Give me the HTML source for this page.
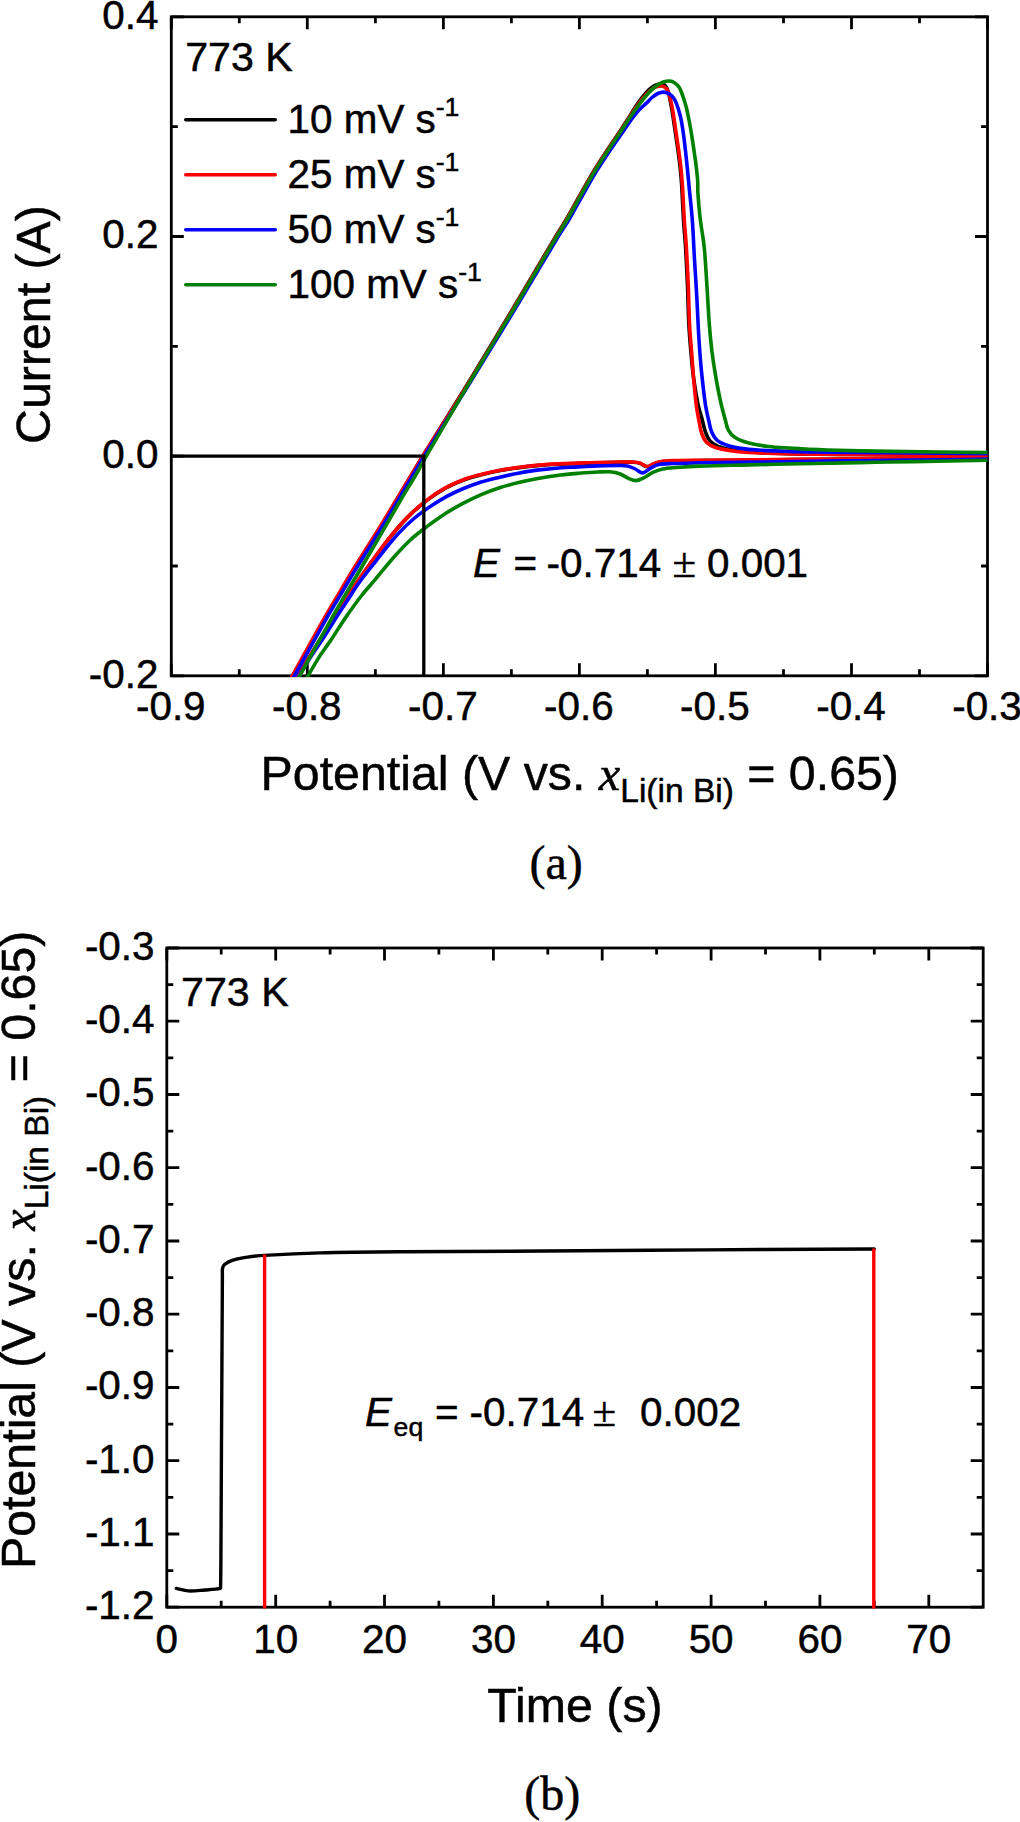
<!DOCTYPE html>
<html lang="en"><head><meta charset="utf-8"><title>Figure</title>
<style>
html,body{margin:0;padding:0;background:#fff;}
body{width:1020px;height:1822px;overflow:hidden;}
svg{display:block;}
.s{font-family:"Liberation Sans", Arial, Helvetica, sans-serif;fill:#000;stroke:#000;stroke-width:0.5px;}
.r{font-family:"Liberation Serif", "Times New Roman", Times, serif;fill:#000;stroke:#000;stroke-width:0.5px;}
.tk{font-size:40.4px;}
.ti{font-size:48.3px;}
</style></head><body>
<svg width="1020" height="1822" viewBox="0 0 1020 1822">
<rect x="0" y="0" width="1020" height="1822" fill="#ffffff"/>
<g id="panel-a">
<rect x="171.3" y="16.8" width="816.2" height="659" fill="none" stroke="#000" stroke-width="2.8"/>
<path d="M171.3 16.8 v12.5 M171.3 675.8 v-12.5 M239.3 16.8 v6.5 M239.3 675.8 v-6.5 M307.3 16.8 v12.5 M307.3 675.8 v-12.5 M375.4 16.8 v6.5 M375.4 675.8 v-6.5 M443.4 16.8 v12.5 M443.4 675.8 v-12.5 M511.4 16.8 v6.5 M511.4 675.8 v-6.5 M579.4 16.8 v12.5 M579.4 675.8 v-12.5 M647.4 16.8 v6.5 M647.4 675.8 v-6.5 M715.4 16.8 v12.5 M715.4 675.8 v-12.5 M783.5 16.8 v6.5 M783.5 675.8 v-6.5 M851.5 16.8 v12.5 M851.5 675.8 v-12.5 M919.5 16.8 v6.5 M919.5 675.8 v-6.5 M987.5 16.8 v12.5 M987.5 675.8 v-12.5 M171.3 16.8 h12.5 M987.5 16.8 h-12.5 M171.3 126.6 h6.5 M987.5 126.6 h-6.5 M171.3 236.5 h12.5 M987.5 236.5 h-12.5 M171.3 346.3 h6.5 M987.5 346.3 h-6.5 M171.3 456.1 h12.5 M987.5 456.1 h-12.5 M171.3 566 h6.5 M987.5 566 h-6.5 M171.3 675.8 h12.5 M987.5 675.8 h-12.5" fill="none" stroke="#000" stroke-width="2.8"/>
<clipPath id="clipA"><rect x="171.3" y="16.8" width="816.2" height="660.2"/></clipPath>
<g clip-path="url(#clipA)" fill="none" stroke-width="3.6" stroke-linejoin="round" stroke-linecap="round">
<path d="M987.5 457.6 C970.7 457.8 953.8 458 937 458.2 C921.3 458.4 905.7 458.5 890 458.7 C880 458.8 870 458.9 860 459 C849 459.1 838 459.2 827 459.3 C804.7 459.5 782.3 459.8 760 460 C740 460.2 720 460.4 700 460.6 C692.2 460.7 684.3 460.7 676.5 460.9 C671.9 461 667.3 461 662.7 461.5 C660.1 461.8 657.4 462.5 654.9 463.4 C652.2 464.3 649.7 466.8 647.1 466.8 C644.8 466.8 642.6 464.2 640.2 463.4 C638 462.7 635.6 462.4 633.3 462.3 C628.1 462 622.8 462.2 617.6 462.3 C611.1 462.4 604.5 462.6 598 462.8 C591.5 463 584.9 463.2 578.4 463.4 C571.9 463.6 565.3 463.9 558.8 464.2 C552.3 464.5 545.7 464.8 539.2 465.4 C532.7 466 526.1 466.7 519.6 467.6 C512.7 468.5 505.7 469.4 498.8 470.7 C492.9 471.8 487 473.2 481.2 474.7 C475.2 476.3 469.3 477.8 463.5 480 C457.5 482.2 451.5 484.8 445.9 487.9 C439.8 491.3 433.8 495.2 428.2 499.4 C422 504 416.1 509 410.6 514.4 C404.3 520.5 398.5 527.1 392.9 533.8 C386.7 541.2 381 549 375.3 556.8 C369.3 564.9 363.4 573.2 357.6 581.5 C354 586.7 350.6 592.1 347.1 597.3 C343.6 602.5 339.9 607.5 336.5 612.8 C331.5 620.7 326.9 628.8 322 636.8 C317.7 643.8 313.3 650.8 309 657.8 C305.1 664.2 301.2 670.7 297.3 677.1" stroke="#000000"/>
<path d="M292.3 676.8 C296.4 669.4 300.5 662.1 304.6 654.7 C308.7 647.3 312.8 639.8 317 632.4 C321 625.3 324.9 618.2 329 611.2 C332.8 604.7 336.7 598.3 340.5 591.8 C344.8 584.5 349 577.2 353.4 570 C363.1 554.2 373.2 538.7 382.8 522.9 C396.3 500.7 409.3 478.1 422.9 455.9 C437.6 431.8 452.9 408 467.6 383.9 C484.1 356.9 500.4 329.7 516.6 302.5 C529.3 281.3 541.6 260 554.3 238.8 C558.3 232.1 562.6 225.7 566.5 219 C571.2 211 575.6 202.7 580.2 194.6 C584.3 187.4 588.3 180.3 592.5 173.2 C594.6 169.7 596.8 166.2 599 162.8 C602.2 157.8 605.5 152.8 608.8 147.8 C612 142.9 615.4 138.1 618.6 133.2 C621.9 128.2 625.2 123.3 628.4 118.3 C631.4 113.7 634.1 108.8 637.2 104.3 C640 100.2 643 96.2 646.3 92.5 C648.4 90.2 650.8 88.1 653.3 86.3 C654.7 85.3 656.4 84.8 658 84.3 C659.1 84 660.4 83.6 661.5 83.8 C662.7 84 664.2 84.6 665 85.5 C666.3 87 667.4 89 668 91 C669.7 96.9 670.7 103.1 671.8 109.2 C673 115.7 673.8 122.3 674.8 128.8 C675.8 135.3 676.8 141.9 677.7 148.4 C678.6 154.9 679.5 161.5 680.2 168 C680.8 173.8 681.3 179.7 681.7 185.5 C682.4 197 682.8 208.5 683.5 220 C684 228.8 685 237.5 685.5 246.3 C686.3 259.5 686.9 272.7 687.5 285.9 C688.1 299.1 688.2 312.2 688.9 325.4 C689.4 334.2 690.1 342.9 690.9 351.7 C691.7 360.5 692.4 369.3 693.6 378.1 C694.8 386.9 696.2 395.7 698 404.4 C699.1 409.7 700.9 414.8 702.3 420 C703.4 424.2 704.1 428.5 705.6 432.5 C706.6 435.3 707.9 438.4 709.8 440.6 C711.8 442.9 714.7 444.9 717.5 446.2 C721.2 447.9 725.4 448.9 729.5 449.6 C736.3 450.8 743.1 451.5 750 452 C762.6 452.9 775.3 453.4 788 453.7 C808.7 454.2 829.3 454.3 850 454.5 C895.8 454.9 941.7 455.2 987.5 455.6" stroke="#000000"/>
<path d="M987.5 457.3 C970.7 457.5 953.8 457.7 937 457.9 C921.3 458.1 905.7 458.2 890 458.4 C880 458.5 870 458.6 860 458.7 C849 458.8 838 458.9 827 459 C804.7 459.2 782.3 459.5 760 459.7 C740 459.9 720 460.1 700 460.3 C692.2 460.4 684.3 460.4 676.5 460.6 C671.9 460.7 667.3 460.7 662.7 461.2 C660.1 461.5 657.4 462.2 654.9 463.1 C652.2 464 649.7 466.5 647.1 466.5 C644.8 466.5 642.6 463.9 640.2 463.1 C638 462.4 635.6 462.1 633.3 462 C628.1 461.7 622.8 461.9 617.6 462 C611.1 462.1 604.5 462.3 598 462.5 C591.5 462.7 584.9 462.9 578.4 463.1 C571.9 463.3 565.3 463.6 558.8 463.9 C552.3 464.2 545.7 464.5 539.2 465.1 C532.7 465.7 526.1 466.4 519.6 467.3 C512.7 468.2 505.7 469.1 498.8 470.4 C492.9 471.5 487 472.9 481.2 474.4 C475.2 476 469.3 477.5 463.5 479.7 C457.5 481.9 451.5 484.5 445.9 487.6 C439.8 491 433.8 494.9 428.2 499.1 C422 503.7 416.1 508.7 410.6 514.1 C404.3 520.2 398.5 526.8 392.9 533.5 C386.7 540.9 381 548.7 375.3 556.5 C369.3 564.6 363.4 572.9 357.6 581.2 C354 586.4 350.6 591.8 347.1 597 C343.6 602.2 339.9 607.2 336.5 612.5 C331.5 620.4 326.9 628.5 322 636.5 C317.7 643.5 313.3 650.5 309 657.5 C305.1 663.9 301.2 670.4 297.3 676.8" stroke="#ff0000"/>
<path d="M291.7 676.8 C295.8 669.4 299.9 662.1 304 654.7 C308.1 647.3 312.2 639.8 316.4 632.4 C320.4 625.3 324.3 618.2 328.4 611.2 C332.2 604.7 336.1 598.3 339.9 591.8 C344.2 584.5 348.5 577.2 352.9 570 C362.6 554.2 372.7 538.7 382.4 522.9 C396 500.7 409.2 478.1 422.9 455.9 C437.7 431.8 453.2 408 468 383.9 C484.6 356.9 500.8 329.7 517 302.5 C529.7 281.3 542 260 554.7 238.8 C558.7 232.1 563 225.7 566.9 219 C571.6 211 576 202.7 580.6 194.6 C584.7 187.4 588.7 180.3 592.9 173.2 C595 169.7 597.2 166.2 599.4 162.8 C602.6 157.8 605.9 152.8 609.2 147.8 C612.4 142.9 615.8 138.1 619 133.2 C622.3 128.2 625.5 123.3 628.8 118.3 C631.9 113.6 634.9 108.8 638.2 104.3 C641.1 100.4 644.1 96.5 647.5 93 C649.6 90.9 652 89 654.5 87.5 C655.8 86.7 657.5 86.4 659 86.2 C660.2 86 661.6 85.9 662.7 86.2 C663.9 86.5 665.1 87.3 666 88.2 C667.1 89.4 668.1 90.9 668.6 92.5 C670.3 97.9 671.4 103.6 672.5 109.2 C673.7 115.7 674.5 122.3 675.5 128.8 C676.5 135.3 677.5 141.9 678.4 148.4 C679.3 154.9 680.2 161.5 680.9 168 C681.5 173.8 682 179.7 682.4 185.5 C683.2 197 683.6 208.5 684.3 220 C684.9 228.8 685.8 237.5 686.3 246.3 C687.1 259.5 687.7 272.7 688.3 285.9 C688.8 299.1 688.9 312.2 689.6 325.4 C690 334.2 690.9 342.9 691.6 351.7 C692.3 360.5 692.8 369.3 693.6 378.1 C694.4 386.9 695.1 395.7 696.2 404.4 C696.8 409.6 697.8 414.8 698.8 420 C699.7 424.6 700.3 429.3 701.8 433.7 C702.9 436.8 704.4 440.2 706.7 442.5 C709 444.8 712.4 446.4 715.5 447.5 C719.9 449 724.6 449.7 729.2 450.4 C735.7 451.4 742.2 452 748.8 452.4 C761.8 453.2 774.9 453.5 788 453.8 C801.1 454.1 814.2 454.2 827.3 454.3 C838.2 454.4 849.1 454.4 860 454.5 C870 454.6 880 454.6 890 454.7 C905.7 454.8 921.3 454.9 937 455 C953.8 455.1 970.7 455.3 987.5 455.5" stroke="#ff0000"/>
<path d="M987.5 459 C970.7 459.3 953.8 459.6 937 459.8 C921.3 460 905.7 460.2 890 460.4 C880 460.5 870 460.6 860 460.7 C849 460.8 838 461 827 461.1 C804.7 461.4 782.3 461.7 760 462 C740 462.3 720 462.5 700 462.8 C690.8 463 681.7 463.1 672.5 463.5 C667.9 463.7 663.2 463.6 658.8 464.5 C656.1 465 653.5 466.5 651 467.8 C648.1 469.3 645.5 472.7 642.7 472.9 C640.3 473.1 637.8 470.2 635.3 469 C632.8 467.8 630.2 466.4 627.5 465.9 C624.3 465.3 620.9 465.5 617.6 465.5 C611.1 465.5 604.5 465.7 598 465.9 C591.5 466.1 584.9 466.6 578.4 466.9 C571.9 467.3 565.3 467.5 558.8 468 C552.3 468.5 545.7 469.1 539.2 469.9 C532.6 470.7 526.1 471.8 519.6 473 C512.6 474.3 505.7 475.8 498.8 477.4 C492.9 478.8 487 480.2 481.2 482 C475.2 483.9 469.3 486.1 463.5 488.5 C457.5 491 451.6 493.7 445.9 496.8 C439.8 500.1 433.9 503.9 428.2 507.9 C422.1 512.1 416.1 516.5 410.6 521.5 C404.3 527.1 398.5 533.3 392.9 539.7 C386.7 546.8 381.1 554.4 375.3 561.8 C369.3 569.4 363.3 576.9 357.6 584.7 C354.7 588.6 352.4 592.9 349.7 597 C346.1 602.5 342.4 608 338.8 613.5 C334 620.9 329.5 628.5 324.7 635.9 C320.1 643 315.2 649.9 310.6 657.1 C306.5 663.6 302.6 670.2 298.6 676.8" stroke="#0000ff"/>
<path d="M293.9 676.8 C298 669.4 302.2 662.1 306.3 654.7 C310.4 647.3 314.5 639.8 318.7 632.4 C322.7 625.3 326.6 618.2 330.7 611.2 C334.5 604.7 338.4 598.3 342.3 591.8 C346.6 584.5 350.9 577.2 355.3 570 C364.9 554.2 374.9 538.7 384.5 522.9 C398 500.7 410.9 478.1 424.4 455.9 C439.1 431.8 454.5 408 469.3 383.9 C486 356.8 502.5 329.7 518.9 302.5 C531.7 281.3 544.1 260 556.9 238.8 C560.9 232.1 565.3 225.7 569.3 219 C574 211 578.4 202.7 583 194.6 C587.1 187.4 591.1 180.3 595.3 173.2 C597.4 169.7 599.7 166.2 601.9 162.8 C605.2 157.8 608.4 152.8 611.8 147.8 C615.1 142.9 618.5 138.1 621.9 133.2 C625.4 128.2 628.7 123.2 632.3 118.3 C634.5 115.4 636.7 112.6 639.2 109.9 C641.3 107.6 643.8 105.6 646.1 103.4 C648.1 101.5 649.9 99.3 652 97.5 C653.8 96 655.7 94.5 657.8 93.5 C659.6 92.7 661.8 92 663.7 92.1 C665.7 92.2 667.9 92.9 669.6 94 C671.5 95.3 673.3 97.3 674.5 99.4 C676.2 102.4 677.3 105.9 678.4 109.2 C679.6 113.1 680.7 117 681.4 121 C682.6 127.5 683.5 134 684.3 140.6 C685.4 149.7 686.4 158.9 687.3 168 C688.1 175.3 688.7 182.7 689.4 190 C690.4 200 691.6 210 692.3 220 C693.3 233.1 693.7 246.3 694.5 259.5 C695.3 272.7 696.2 285.8 696.9 299 C697.6 312.2 698.1 325.3 698.9 338.5 C699.6 349.5 700.4 360.5 701.5 371.5 C702.6 382.5 703.8 393.5 705.4 404.4 C706.2 409.6 707.4 414.8 708.6 420 C709.5 424 710 428.1 711.6 431.8 C713 435 714.8 438.5 717.5 440.6 C720.7 443.2 725.1 444.7 729.2 445.9 C735.5 447.7 742.2 448.8 748.8 449.4 C761.8 450.6 774.9 451 788 451.4 C801.1 451.9 814.2 451.9 827.3 452.1 C838.2 452.3 849.1 452.4 860 452.5 C870 452.6 880 452.7 890 452.8 C905.7 452.9 921.3 453 937 453.2 C953.8 453.4 970.7 453.6 987.5 453.8" stroke="#0000ff"/>
<path d="M987.5 460.2 C970.7 460.5 953.8 460.9 937 461.2 C921.3 461.5 905.7 461.7 890 462 C880 462.2 870 462.4 860 462.6 C840 463 820 463.4 800 463.8 C783.3 464.1 766.7 464.5 750 464.9 C733.3 465.3 716.7 465.5 700 466.1 C692.2 466.4 684.3 466.9 676.5 467.5 C671.9 467.9 667.2 468.1 662.7 469 C659.3 469.7 656 470.9 652.9 472.4 C649.5 474 646.5 476.5 643.1 478.2 C641 479.3 638.6 480.5 636.3 480.6 C634 480.7 631.6 479.7 629.4 478.8 C626 477.4 623 474.9 619.6 473.7 C616.5 472.6 613.1 472.1 609.8 471.8 C605.9 471.5 601.9 471.8 598 472 C591.5 472.3 584.9 472.8 578.4 473.3 C571.9 473.9 565.3 474.5 558.8 475.3 C552.2 476.1 545.7 477 539.2 478.2 C532.6 479.4 526.1 480.7 519.6 482.3 C512.6 484 505.6 485.8 498.8 488 C492.8 489.9 487 492.2 481.2 494.7 C475.2 497.3 469.3 500.2 463.5 503.2 C457.5 506.3 451.6 509.6 445.9 513.2 C439.8 517.1 434 521.3 428.2 525.6 C422.2 530.1 416.1 534.6 410.6 539.7 C404.3 545.5 398.6 551.8 392.9 558.2 C386.8 565.1 381.2 572.4 375.3 579.4 C370.9 584.6 366.2 589.6 362 595 C356.4 602.2 351.1 609.6 345.9 617.1 C340.6 624.8 335.8 632.8 330.6 640.6 C326.8 646.3 322.5 651.8 318.8 657.6 C314.8 663.9 311.2 670.4 307.4 676.8" stroke="#008000"/>
<path d="M299.2 676.8 C304.6 667.1 309.9 657.3 315.3 647.6 C318.8 641.3 322.4 635.1 325.9 628.8 C329.4 622.5 332.9 616.2 336.5 610 C340 603.9 343.5 597.8 347 591.8 C351.3 584.5 355.7 577.3 360 570 C374 546.1 387.8 522.1 401.8 498.2 C407 489.4 412.5 480.7 417.6 471.8 C421 466 424 459.9 427.4 454.1 C441 430.6 454.7 407.2 468.6 383.9 C484.8 356.7 501.4 329.7 517.6 302.5 C530.3 281.3 542.6 260 555.3 238.8 C559.3 232.1 563.6 225.7 567.5 219 C572.2 211 576.6 202.7 581.2 194.6 C585.3 187.4 589.3 180.3 593.5 173.2 C595.6 169.7 597.8 166.2 600 162.8 C603.2 157.8 606.5 152.8 609.8 147.8 C613 142.9 616.4 138.1 619.6 133.2 C622.9 128.2 626.1 123.2 629.4 118.3 C632.6 113.6 635.8 108.8 639.2 104.3 C642.3 100.2 645.5 96.2 649 92.5 C651.1 90.2 653.4 88 655.9 86.2 C658 84.6 660.3 83.2 662.7 82.3 C664.9 81.5 667.3 80.9 669.6 81 C671.3 81.1 673.1 81.8 674.5 82.7 C676.4 84 678.2 85.7 679.4 87.6 C681.2 90.6 682.1 94.2 683.3 97.5 C684.4 100.7 685.5 104 686.3 107.3 C687.4 111.8 688.3 116.4 689.2 121 C690.3 126.8 691.3 132.7 692.2 138.6 C693.2 145.1 694.2 151.7 695.1 158.2 C695.7 162.1 696.2 166.1 696.6 170 C697 173.7 697.5 177.3 697.7 181 C697.9 185 697.6 189 697.9 193 C698.4 201 699.1 209 700 216.9 C701.1 226.7 703 236.5 704.1 246.3 C705.1 255.1 705.5 263.9 706.1 272.7 C706.7 281.5 707.2 290.2 707.7 299 C708.3 307.8 708.7 316.6 709.4 325.4 C710.1 334.2 710.9 343 712 351.7 C713.1 360.5 714.5 369.3 716 378.1 C717.5 386.9 719.3 395.7 721.2 404.4 C722.4 409.6 723.9 414.8 725.3 420 C726.2 423.3 726.6 426.9 728.2 429.8 C729.8 432.8 732.3 435.8 735.1 437.6 C739.1 440.2 744.1 441.8 748.8 443.1 C755.2 444.8 761.8 445.7 768.4 446.5 C774.9 447.3 781.5 447.6 788 448 C801.1 448.8 814.2 449.5 827.3 450 C838.2 450.4 849.1 450.7 860 450.9 C870 451.1 880 451.3 890 451.4 C922.5 451.8 955 452.1 987.5 452.5" stroke="#008000"/>
</g>
<path d="M171.3 456.2 H423.8 V675.8" fill="none" stroke="#000" stroke-width="3.3" stroke-linejoin="miter"/>
<text class="s tk" x="158.4" y="28.7" text-anchor="end">0.4</text>
<text class="s tk" x="158.4" y="248.4" text-anchor="end">0.2</text>
<text class="s tk" x="158.4" y="468" text-anchor="end">0.0</text>
<text class="s tk" x="158.4" y="687.7" text-anchor="end">-0.2</text>
<text class="s tk" x="170.8" y="720.2" text-anchor="middle">-0.9</text>
<text class="s tk" x="306.8" y="720.2" text-anchor="middle">-0.8</text>
<text class="s tk" x="442.9" y="720.2" text-anchor="middle">-0.7</text>
<text class="s tk" x="578.9" y="720.2" text-anchor="middle">-0.6</text>
<text class="s tk" x="714.9" y="720.2" text-anchor="middle">-0.5</text>
<text class="s tk" x="851" y="720.2" text-anchor="middle">-0.4</text>
<text class="s tk" x="987" y="720.2" text-anchor="middle">-0.3</text>
<text class="s ti" transform="translate(49.9 324.5) rotate(-90)" text-anchor="middle">Current (A)</text>
<text class="s ti" x="260.6" y="789.5">Potential (V vs. <tspan class="r" font-style="italic">x</tspan><tspan font-size="33.5px" dy="12.7">Li(in Bi)</tspan><tspan dy="-12.7"> = 0.65)</tspan></text>
<text class="s" font-size="41.2px" x="185.2" y="70.7">773 K</text>
<line x1="185.8" y1="119.8" x2="275.2" y2="119.8" stroke="#000000" stroke-width="3.6" stroke-linecap="round"/>
<text class="s tk" x="287.6" y="133.3">10 mV s<tspan font-size="26.6px" dy="-17">-1</tspan></text>
<line x1="185.8" y1="174.8" x2="275.2" y2="174.8" stroke="#ff0000" stroke-width="3.6" stroke-linecap="round"/>
<text class="s tk" x="287.6" y="188.3">25 mV s<tspan font-size="26.6px" dy="-17">-1</tspan></text>
<line x1="185.8" y1="229.8" x2="275.2" y2="229.8" stroke="#0000ff" stroke-width="3.6" stroke-linecap="round"/>
<text class="s tk" x="287.6" y="243.3">50 mV s<tspan font-size="26.6px" dy="-17">-1</tspan></text>
<line x1="185.8" y1="284.8" x2="275.2" y2="284.8" stroke="#008000" stroke-width="3.6" stroke-linecap="round"/>
<text class="s tk" x="287.6" y="298.3">100 mV s<tspan font-size="26.6px" dy="-17">-1</tspan></text>
<text class="s tk" y="577.2"><tspan x="473" font-style="italic">E</tspan><tspan x="513.6">=</tspan><tspan x="546.6">-0.714</tspan><tspan x="672.4" class="r" font-size="43px">±</tspan><tspan x="707">0.001</tspan></text>
<text class="r" font-size="48px" x="556.2" y="879.4" text-anchor="middle">(a)</text>
</g>
<g id="panel-b">
<rect x="166.8" y="948" width="816.4" height="659.2" fill="none" stroke="#000" stroke-width="2.8"/>
<path d="M166.8 948 v12.5 M166.8 1607.2 v-12.5 M221.2 948 v6.5 M221.2 1607.2 v-6.5 M275.7 948 v12.5 M275.7 1607.2 v-12.5 M330.1 948 v6.5 M330.1 1607.2 v-6.5 M384.5 948 v12.5 M384.5 1607.2 v-12.5 M438.9 948 v6.5 M438.9 1607.2 v-6.5 M493.4 948 v12.5 M493.4 1607.2 v-12.5 M547.8 948 v6.5 M547.8 1607.2 v-6.5 M602.2 948 v12.5 M602.2 1607.2 v-12.5 M656.6 948 v6.5 M656.6 1607.2 v-6.5 M711.1 948 v12.5 M711.1 1607.2 v-12.5 M765.5 948 v6.5 M765.5 1607.2 v-6.5 M819.9 948 v12.5 M819.9 1607.2 v-12.5 M874.3 948 v6.5 M874.3 1607.2 v-6.5 M928.8 948 v12.5 M928.8 1607.2 v-12.5 M166.8 948 h12.5 M983.2 948 h-12.5 M166.8 984.6 h6.5 M983.2 984.6 h-6.5 M166.8 1021.2 h12.5 M983.2 1021.2 h-12.5 M166.8 1057.9 h6.5 M983.2 1057.9 h-6.5 M166.8 1094.5 h12.5 M983.2 1094.5 h-12.5 M166.8 1131.1 h6.5 M983.2 1131.1 h-6.5 M166.8 1167.7 h12.5 M983.2 1167.7 h-12.5 M166.8 1204.4 h6.5 M983.2 1204.4 h-6.5 M166.8 1241 h12.5 M983.2 1241 h-12.5 M166.8 1277.6 h6.5 M983.2 1277.6 h-6.5 M166.8 1314.2 h12.5 M983.2 1314.2 h-12.5 M166.8 1350.8 h6.5 M983.2 1350.8 h-6.5 M166.8 1387.5 h12.5 M983.2 1387.5 h-12.5 M166.8 1424.1 h6.5 M983.2 1424.1 h-6.5 M166.8 1460.7 h12.5 M983.2 1460.7 h-12.5 M166.8 1497.3 h6.5 M983.2 1497.3 h-6.5 M166.8 1534 h12.5 M983.2 1534 h-12.5 M166.8 1570.6 h6.5 M983.2 1570.6 h-6.5 M166.8 1607.2 h12.5 M983.2 1607.2 h-12.5" fill="none" stroke="#000" stroke-width="2.8"/>
<g fill="none" stroke-linejoin="round">
<path d="M176.3 1588.4 C180.3 1589.2 184.2 1590.7 188.2 1590.9 C193.8 1591.2 199.4 1590.4 205 1590 C210.1 1589.6 215.7 1589.4 220.3 1588.4 C220.9 1588.3 220.6 1587.1 220.6 1586.5 C220.8 1577.7 220.8 1568.8 220.9 1560 C221.4 1465 221.8 1370 222.4 1275 C222.4 1272.7 222.1 1270.2 222.6 1268 C222.9 1266.7 223.6 1265.2 224.7 1264.4 C227.1 1262.6 230.1 1261.1 233 1260.2 C237.7 1258.7 242.7 1257.9 247.6 1257.1 C253.1 1256.3 258.7 1255.7 264.3 1255.4 C282.8 1254.3 301.4 1253.4 320 1252.9 C346.7 1252.2 373.3 1252 400 1251.8 C436.7 1251.5 473.3 1251.4 510 1251.2 C556.7 1250.9 603.3 1250.5 650 1250.2 C686.7 1250 723.3 1249.7 760 1249.5 C798.1 1249.3 836.2 1249.2 874.3 1249" stroke="#000" stroke-width="3.4" stroke-linecap="round"/>
<path d="M264.6 1608.6 V1254.6 M873.8 1608.6 V1248.6" stroke="#ff0000" stroke-width="3.4"/>
</g>
<text class="s tk" x="154.5" y="959.9" text-anchor="end">-0.3</text>
<text class="s tk" x="154.5" y="1033.1" text-anchor="end">-0.4</text>
<text class="s tk" x="154.5" y="1106.4" text-anchor="end">-0.5</text>
<text class="s tk" x="154.5" y="1179.6" text-anchor="end">-0.6</text>
<text class="s tk" x="154.5" y="1252.9" text-anchor="end">-0.7</text>
<text class="s tk" x="154.5" y="1326.1" text-anchor="end">-0.8</text>
<text class="s tk" x="154.5" y="1399.4" text-anchor="end">-0.9</text>
<text class="s tk" x="154.5" y="1472.6" text-anchor="end">-1.0</text>
<text class="s tk" x="154.5" y="1545.9" text-anchor="end">-1.1</text>
<text class="s tk" x="154.5" y="1619.1" text-anchor="end">-1.2</text>
<text class="s tk" x="166.8" y="1653.3" text-anchor="middle">0</text>
<text class="s tk" x="275.7" y="1653.3" text-anchor="middle">10</text>
<text class="s tk" x="384.5" y="1653.3" text-anchor="middle">20</text>
<text class="s tk" x="493.4" y="1653.3" text-anchor="middle">30</text>
<text class="s tk" x="602.2" y="1653.3" text-anchor="middle">40</text>
<text class="s tk" x="711.1" y="1653.3" text-anchor="middle">50</text>
<text class="s tk" x="819.9" y="1653.3" text-anchor="middle">60</text>
<text class="s tk" x="928.8" y="1653.3" text-anchor="middle">70</text>
<text class="s ti" transform="translate(34.8 1569) rotate(-90)">Potential (V vs. <tspan class="r" font-style="italic">x</tspan><tspan font-size="33.5px" dy="12.7">Li(in Bi)</tspan><tspan dy="-12.7"> = 0.65)</tspan></text>
<text class="s ti" x="575" y="1721.9" text-anchor="middle">Time (s)</text>
<text class="s" font-size="41.2px" x="181" y="1006.3">773 K</text>
<text class="s tk" y="1426.4"><tspan x="365" font-style="italic">E</tspan><tspan x="393.6" dy="10" font-size="26.6px">eq</tspan><tspan x="435" dy="-10">=</tspan><tspan x="469.6">-0.714</tspan><tspan x="592.5" class="r" font-size="43px">±</tspan><tspan x="640.1">0.002</tspan></text>
<text class="r" font-size="48px" x="552.2" y="1810.4" text-anchor="middle">(b)</text>
</g>
</svg>
</body></html>
